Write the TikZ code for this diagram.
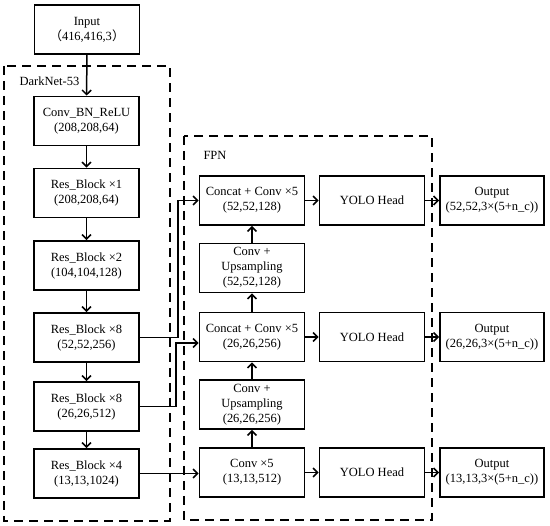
\documentclass[tikz,border=0pt]{standalone}
\usepackage{fontspec}
\setmainfont{Liberation Serif}
\newfontfamily\cjk{Noto Sans CJK SC}
\usetikzlibrary{arrows.meta}

\tikzset{
	blk/.style={draw, line width=1.8pt, minimum width=105pt, minimum height=49pt, align=center, inner sep=1pt, font=\fontsize{12.5}{15}\selectfont},
	arr/.style={line width=1.5pt, -{Straight Barb[length=4.5pt,width=9pt,line width=1.5pt]}},
	grp/.style={line width=1.7pt, dash pattern=on 9pt off 6pt},
	lbl/.style={font=\fontsize{12.5}{15}\selectfont, inner sep=0pt},
}

\begin{document}
\begin{tikzpicture}[x=1pt, y=-1pt]
			%%%%% START %%%%%
			\useasboundingbox (0, 0) rectangle (550, 526);
			
			% dashed groups
			\draw[grp] (4, 66) rectangle (170, 521);
			\draw[grp] (184, 136) rectangle (432, 520);
			\node[lbl] (darknetlbl) at (49.5, 81) {DarkNet-53};
			\node[lbl] (fpnlbl) at (215, 155) {FPN};
			
			% backbone
			\node[blk] (input) at (87, 29.5) {Input\\{\cjk （}416,416,3{\cjk ）}};
			\node[blk] (conv) at (86.5, 121) {Conv\_BN\_ReLU\\(208,208,64)};
			\node[blk] (res1) at (86.5, 193) {Res\_Block ×1\\(208,208,64)};
			\node[blk] (res2) at (86.5, 265.5) {Res\_Block ×2\\(104,104,128)};
			\node[blk] (res3) at (86.5, 337.5) {Res\_Block ×8\\(52,52,256)};
			\node[blk] (res4) at (86.5, 406.5) {Res\_Block ×8\\(26,26,512)};
			\node[blk] (res5) at (86.5, 473.5) {Res\_Block ×4\\(13,13,1024)};
			
			% FPN column
			\node[blk] (cat1) at (252, 200.5) {Concat + Conv ×5\\(52,52,128)};
			\node[blk] (up1) at (252, 268) {Conv +\\Upsampling\\(52,52,128)};
			\node[blk] (cat2) at (252, 337) {Concat + Conv ×5\\(26,26,256)};
			\node[blk] (up2) at (252, 404.5) {Conv +\\Upsampling\\(26,26,256)};
			\node[blk] (conv5) at (252, 472.5) {Conv ×5\\(13,13,512)};
			
			% heads
			\node[blk] (head1) at (372, 200.5) {YOLO Head};
			\node[blk] (head2) at (372, 337) {YOLO Head};
			\node[blk] (head3) at (372, 472.5) {YOLO Head};
			
			\node[blk, minimum width=104pt] (out1) at (492, 200.5) {Output\\(52,52,3×(5+n\_c))};
			\node[blk, minimum width=104pt] (out2) at (492, 337) {Output\\(26,26,3×(5+n\_c))};
			\node[blk, minimum width=104pt] (out3) at (492, 472.5) {Output\\(13,13,3×(5+n\_c))};
			
			% connectors
			\draw[arr] (input) -- (conv);
			\draw[arr] (conv) -- (res1);
			\draw[arr] (res1) -- (res2);
			\draw[arr] (res2) -- (res3);
			\draw[arr] (res3) -- (res4);
			\draw[arr] (res4) -- (res5);
			
			\draw[arr] (res3.east) -- ++(38, 0) |- (cat1.west);
			\draw[arr] (res4.east) -- ++(36, 0) |- ([yshift=-6pt]cat2.west);
			\draw[arr] (res5.east) -- (res5.east -| conv5.west);
			
			\draw[arr] (conv5) -- (up2);
			\draw[arr] (up2) -- (cat2);
			\draw[arr] (cat2) -- (up1);
			\draw[arr] (up1) -- (cat1);
			
			\draw[arr] (cat1) -- (head1);
			\draw[arr] (cat2) -- (head2);
			\draw[arr] (conv5) -- (head3);
			\draw[arr] (head1) -- (out1);
			\draw[arr] (head2) -- (out2);
			\draw[arr] (head3) -- (out3);
			%%%%% END %%%%%
\end{tikzpicture}
\end{document}
